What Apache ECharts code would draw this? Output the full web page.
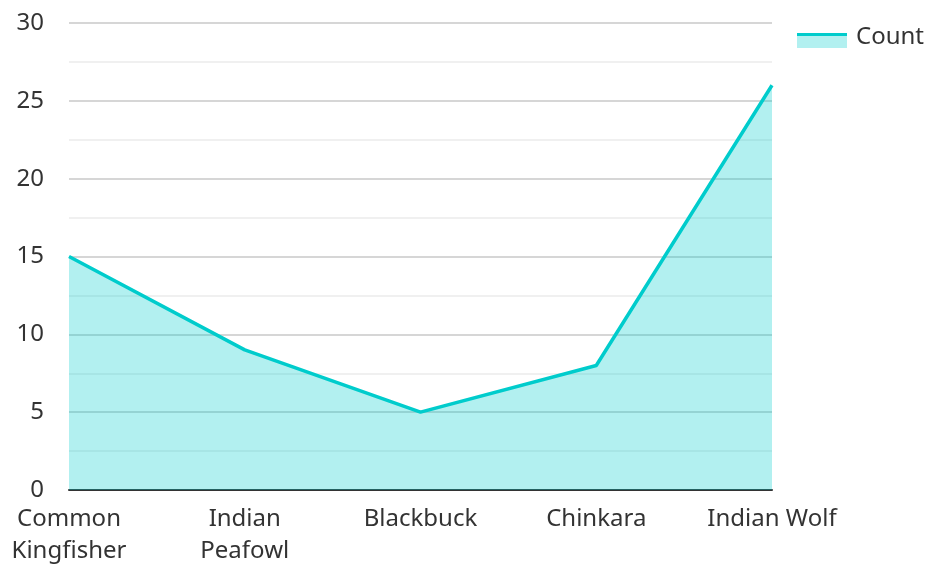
<!DOCTYPE html>
<html>
<head>
<meta charset="utf-8">
<script src="https://cdn.jsdelivr.net/npm/echarts@6/dist/echarts.min.js"></script>
<style>
  html, body { margin: 0; padding: 0; background: #fff; }
  #chart { width: 928px; height: 564px; }
</style>
</head>
<body>
<div id="chart"></div>
<script>
const categories = ['Common\nKingfisher', 'Indian\nPeafowl', 'Blackbuck', 'Chinkara', 'Indian Wolf']
const counts = [15, 9, 5, 8, 26]
const yTicks = { min: 0, max: 30, interval: 5 }

const font = '"Noto Sans", "Open Sans", sans-serif'
const lineColor = '#00cccc'
const areaColor = 'rgba(0, 204, 204, 0.3)'
const chart = echarts.init(document.getElementById('chart'))
chart.setOption({
  animation: false,
  textStyle: { fontFamily: font },
  legend: {
    left: 792,
    top: 20,
    itemWidth: 50,
    itemHeight: 22,
    // swatch sits in the lower part of the icon box so the label rides a bit higher
    icon: 'path://M0,0L0.01,0M0,8H50V22H0Z',
    itemStyle: { color: areaColor },
    textStyle: { fontSize: 24, color: '#333', fontFamily: font, padding: [0, 0, 0, 4] },
    data: ['Count']
  },
  // top stroke of the legend swatch (line over area)
  graphic: [{
    type: 'rect',
    shape: { x: 797, y: 33, width: 50, height: 3 },
    style: { fill: lineColor },
    silent: true
  }],
  grid: { left: 69, right: 156, top: 23, bottom: 74, outerBoundsMode: 'none', containLabel: false },
  xAxis: {
    type: 'category',
    boundaryGap: false,
    data: categories,
    axisLine: { lineStyle: { color: '#333', width: 2 } },
    axisTick: { show: false },
    axisLabel: { fontSize: 24, color: '#333', margin: 13, lineHeight: 32, interval: 0 }
  },
  yAxis: {
    type: 'value',
    min: yTicks.min,
    max: yTicks.max,
    interval: yTicks.interval,
    axisLine: { show: false },
    axisTick: { show: false },
    axisLabel: { fontSize: 24, color: '#333', margin: 25, padding: [4, 0, 0, 0] },
    splitLine: { lineStyle: { color: '#c8c8c8', width: 1.5 } },
    minorTick: { show: false, splitNumber: 2 },
    minorSplitLine: { show: true, lineStyle: { color: '#ebebeb', width: 1.5 } }
  },
  series: [{
    name: 'Count',
    type: 'line',
    data: counts,
    symbol: 'none',
    lineStyle: { color: lineColor, width: 3.5 },
    itemStyle: { color: lineColor },
    areaStyle: { color: areaColor, opacity: 1 }
  }]
})
</script>
</body>
</html>
